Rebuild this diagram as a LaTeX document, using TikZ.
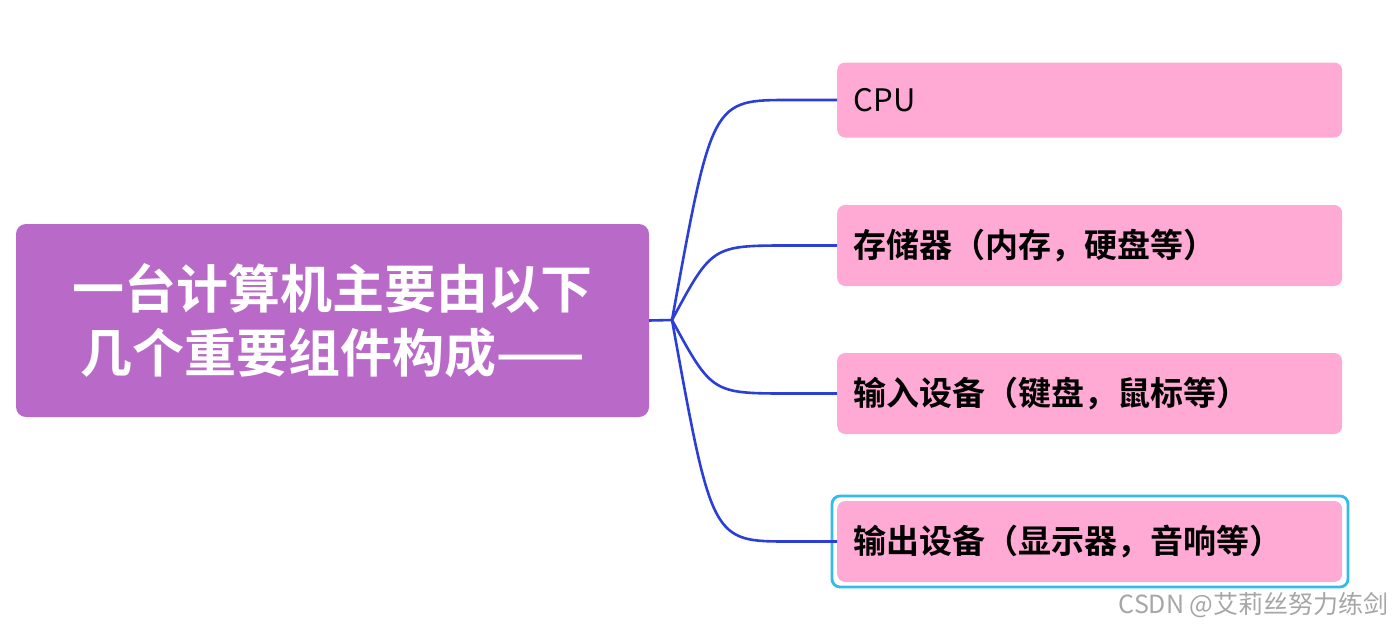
\documentclass[tikz,border=0pt]{standalone}
\usepackage{fontspec}
\setmainfont{Noto Sans CJK SC}
\newfontfamily\cjkb{Noto Sans CJK SC Bold}
\definecolor{mainc}{HTML}{B96AC9}
\definecolor{pinkc}{HTML}{FFAAD5}
\definecolor{linec}{HTML}{2B3FD6}
\definecolor{selc}{HTML}{33BBEE}
\begin{document}
\begin{tikzpicture}[x=1pt,y=-1pt,
  box/.style={fill=pinkc,rounded corners=8pt,minimum width=505pt,anchor=west,inner sep=0pt,text width=472pt,align=left,font=\cjkb\fontsize{33}{38}\selectfont},
  conn/.style={draw=linec,line width=2.6pt}]
\useasboundingbox (0,0) rectangle (1399,629);
\node[fill=mainc,rounded corners=10pt,minimum width=633pt,minimum height=193pt,inner sep=0pt,text=white,align=center,font=\cjkb\fontsize{52}{64}\selectfont] (m) at (332.5,320.5) {一台计算机主要由以下\\几个重要组件构成——};
\coordinate (j) at (672,320);
\node[box,minimum height=75pt,font=\fontsize{31}{38}\selectfont] (a) at (837,100) {CPU};
\node[box,minimum height=81pt] (b) at (837,245.5) {存储器（内存，硬盘等）};
\node[box,minimum height=81pt] (c) at (837,393.5) {输入设备（键盘，鼠标等）};
\node[box,minimum height=81pt] (d) at (837,541.5) {输出设备（显示器，音响等）};
\draw[selc,line width=2.8pt,rounded corners=8pt] (832,496) rectangle (1348,587);
\draw[conn] (m.east) -- (j);
\foreach \t in {a,b,c,d}{
  \draw[conn] (j) .. controls (712,320|-\t.west) and (712,0|-\t.west) .. (790,0|-\t.west) -- (\t.west);
}
\node[anchor=east,text=gray!70,font=\fontsize{25}{30}\selectfont] (w) at (1392,605) {CSDN @艾莉丝努力练剑};
\end{tikzpicture}
\end{document}
